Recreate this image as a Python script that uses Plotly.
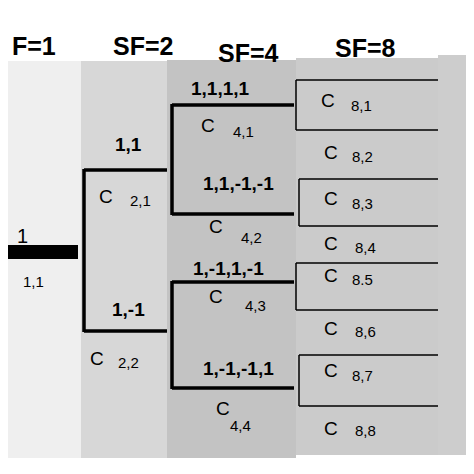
import plotly.graph_objects as go

headers = ["F=1", "SF=2", "SF=4", "SF=8"]
codes2 = ["1,1", "1,-1"]
codes4 = ["1,1,1,1", "1,1,-1,-1", "1,-1,1,-1", "1,-1,-1,1"]
idx2 = ["2,1", "2,2"]
idx4 = ["4,1", "4,2", "4,3", "4,4"]
idx8 = ["8,1", "8,2", "8,3", "8,4", "8.5", "8,6", "8,7", "8,8"]

fig = go.Figure()
shapes = []
bands = [(0, 73, 53, 450, "#efefef"), (73, 159, 53, 450, "#d7d7d7"),
         (159, 288, 52, 450, "#c3c3c3"), (288, 430, 50, 447, "#cbcbcb"),
         (430, 474, 47, 447, "#cdcdcd")]
for x0, x1, y0, y1, c in bands:
    shapes.append(dict(type="rect", x0=x0, x1=x1, y0=y0, y1=y1, fillcolor=c, line_width=0, layer="below"))

def seg(x0, y0, x1, y1, w):
    shapes.append(dict(type="line", x0=x0, y0=y0, x1=x1, y1=y1, line=dict(color="black", width=w)))

seg(0, 244, 70, 244, 14)
seg(76, 161, 76, 324, 3.5); seg(76, 162, 159, 162, 3.5); seg(76, 323, 159, 323, 3.5)
for ya, yb in [(97, 206), (274, 380)]:
    seg(164, ya - 1, 164, yb + 1, 3.5); seg(164, ya, 286, ya, 3.5); seg(164, yb, 286, yb, 3.5)
for xv, ya, yb in [(288, 72, 122), (291, 171, 218), (288, 255, 302), (291, 347, 398)]:
    seg(xv, ya, xv, yb, 1.5); seg(xv, ya, 430, ya, 1.5); seg(xv, yb, 430, yb, 1.5)

ann = []
def t(x, y, s, size, bold=False, anchor="center"):
    ann.append(dict(x=x, y=y, text=f"<b>{s}</b>" if bold else s, showarrow=False, xanchor=anchor,
                    font=dict(family="Liberation Sans, Arial", size=size, color="black")))

for (x, y), h in zip([(26, 38), (135, 38), (240, 45), (357, 40)], headers):
    t(x, y, h, 25, True)
t(14, 228, "1", 20)
for (x, y), c in zip([(120, 136), (120, 301)], codes2):
    t(x, y, c, 19, True)
for (x, y), c in zip([(212, 80), (230, 175), (220, 260), (230, 360)], codes4):
    t(x, y, c, 19, True)
t(25, 273, "1,1", 15)
for (cx, cy, ix, iy), s in zip([(98, 188, 132, 192), (89, 350, 120, 354)], idx2):
    t(cx, cy, "C", 19); t(ix, iy, s, 15)
for (cx, cy, ix, iy), s in zip([(200, 117, 235, 123), (208, 218, 243, 229), (208, 288, 247, 297), (215, 400, 232, 417)], idx4):
    t(cx, cy, "C", 19); t(ix, iy, s, 15)
pos8 = [(320, 92, 353, 97), (323, 144, 354, 148), (323, 190, 354, 195), (323, 235, 357, 239),
        (323, 267, 354, 271), (323, 320, 357, 323), (323, 362, 354, 367), (323, 420, 357, 422)]
for (cx, cy, ix, iy), s in zip(pos8, idx8):
    t(cx, cy, "C", 19); t(ix, iy, s, 15)

fig.update_layout(width=474, height=474, margin=dict(l=0, r=0, t=0, b=0),
                  paper_bgcolor="white", plot_bgcolor="white", shapes=shapes, annotations=ann,
                  xaxis=dict(range=[0, 474], visible=False, fixedrange=True),
                  yaxis=dict(range=[474, 0], visible=False, fixedrange=True), showlegend=False)
fig.write_html("out.html")
